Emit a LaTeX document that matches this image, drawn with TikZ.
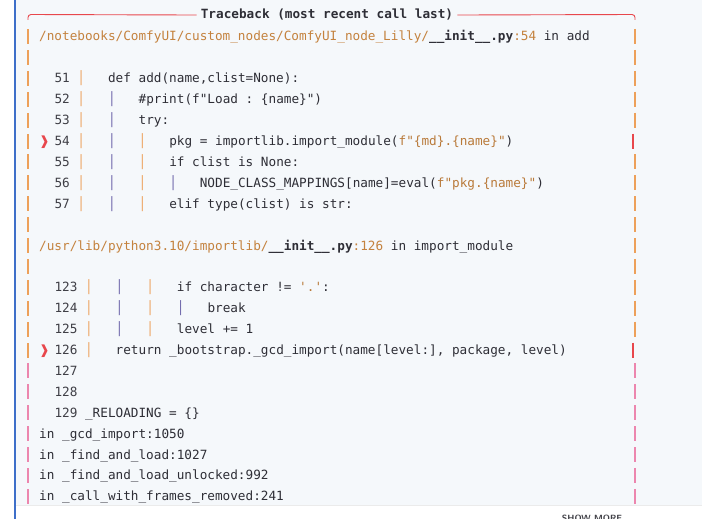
\documentclass[tikz,border=0pt]{standalone}
\usepackage{fontspec}
\setmonofont{DejaVu Sans Mono}
\newfontfamily\symfont{DejaVu Sans}
\definecolor{panel}{HTML}{F5F8FB}
\definecolor{pblue}{HTML}{3E6FC9}
\definecolor{tred}{HTML}{E8474C}
\definecolor{orng}{HTML}{EDA05A}
\definecolor{pink}{HTML}{EC86AE}
\definecolor{purp}{HTML}{6A62A8}
\definecolor{pathc}{HTML}{C4823E}
\definecolor{strc}{HTML}{B97A3A}
\definecolor{numc}{HTML}{3F3F46}
\definecolor{codec}{HTML}{2E2E36}
\newcounter{tc}
\newcommand\tx[4][codec]{\stepcounter{tc}\node[txt,text=#1] (t\thetc) at ({39+#2*7.65},{41+#3*20.9}) {#4};}
\newcommand\pp[3][orng]{\stepcounter{tc}\node[txt,text=#1] (t\thetc) at ({39+#2*7.65},{41+#3*20.9}) {\symfont │};}
\begin{document}
\begin{tikzpicture}[x=1pt,y=-1pt,
  txt/.style={anchor=base west,inner sep=0pt,font=\ttfamily\fontsize{12.7}{14}\selectfont},
  bar/.style={line width=1.3pt}]
\useasboundingbox (0,0) rectangle (702,519);
\fill[white] (0,0) rectangle (702,519);
\fill[panel,rounded corners=4pt] (14,-5) rectangle (720,505);
\fill[pblue] (13.5,-5) rectangle (15.5,519);
\fill[white] (15.5,505.5) rectangle (702,519);
\fill[black!8] (15.5,504.5) rectangle (702,505.5);
\node[anchor=base,inner sep=0pt,font=\sffamily\bfseries\fontsize{9}{10}\selectfont,text=numc] (sm) at (592,521) {SHOW MORE};
% top border
\node[txt,font=\ttfamily\bfseries\fontsize{12.7}{14}\selectfont,text=codec,anchor=base] (title) at (327,18.5) {Traceback (most recent call last)};
\draw[tred,line width=0.9pt,rounded corners=3pt] (title.west) ++(-4,0.5) coordinate (tl) -- (28,14.5) -- (28,20);
\draw[tred,line width=0.9pt,rounded corners=3pt] (title.east) ++(4,0.5) coordinate (tr) -- (635,14.5) -- (635,20);
% left and right border segments
\foreach \r in {0,...,22}{
  \pgfmathsetmacro{\yy}{29+\r*20.9}
  \ifnum\r<16 \def\lc{orng}\else\def\lc{pink}\fi
  \fill[color=\lc] (27.3,\yy) rectangle (28.7,\yy+15);
  \ifnum\r=5 \draw[tred,bar] (633,\yy) -- (633,\yy+15);
  \else\ifnum\r=15 \draw[tred,bar] (633,\yy) -- (633,\yy+15);
  \else \draw[color=\lc,bar] (635,\yy) -- (635,\yy+15);\fi\fi
}
% frame 1
\tx[pathc]{0}{0}{/notebooks/ComfyUI/custom\_nodes/ComfyUI\_node\_Lilly/\textcolor{codec}{\bfseries \_\_init\_\_.py}:54 \textcolor{codec}{in add}}
\tx[numc]{2}{2}{51}\pp{5}{2}\tx{9}{2}{def add(name,clist=None):}
\tx[numc]{2}{3}{52}\pp{5}{3}\pp[purp]{9}{3}\tx{13}{3}{\#print(f"Load : \{name\}")}
\tx[numc]{2}{4}{53}\pp{5}{4}\pp[purp]{9}{4}\tx{13}{4}{try:}
\tx[tred]{0}{5}{\symfont ❱}\tx[numc]{2}{5}{54}\pp{5}{5}\pp[purp]{9}{5}\pp{13}{5}\tx{17}{5}{pkg = importlib.import\_module(\textcolor{strc}{f"\{md\}.\{name\}"})}
\tx[numc]{2}{6}{55}\pp{5}{6}\pp[purp]{9}{6}\pp{13}{6}\tx{17}{6}{if clist is None:}
\tx[numc]{2}{7}{56}\pp{5}{7}\pp[purp]{9}{7}\pp{13}{7}\pp[purp]{17}{7}\tx{21}{7}{NODE\_CLASS\_MAPPINGS[name]=eval(\textcolor{strc}{f"pkg.\{name\}"})}
\tx[numc]{2}{8}{57}\pp{5}{8}\pp[purp]{9}{8}\pp{13}{8}\tx{17}{8}{elif type(clist) is str:}
% frame 2
\tx[pathc]{0}{10}{/usr/lib/python3.10/importlib/\textcolor{codec}{\bfseries \_\_init\_\_.py}:126 \textcolor{codec}{in import\_module}}
\tx[numc]{2}{12}{123}\pp{6}{12}\pp[purp]{10}{12}\pp{14}{12}\tx{18}{12}{if character != \textcolor{strc}{'.'}:}
\tx[numc]{2}{13}{124}\pp{6}{13}\pp[purp]{10}{13}\pp{14}{13}\pp[purp]{18}{13}\tx{22}{13}{break}
\tx[numc]{2}{14}{125}\pp{6}{14}\pp[purp]{10}{14}\pp{14}{14}\tx{18}{14}{level += 1}
\tx[tred]{0}{15}{\symfont ❱}\tx[numc]{2}{15}{126}\pp{6}{15}\tx{10}{15}{return \_bootstrap.\_gcd\_import(name[level:], package, level)}
\tx[numc]{2}{16}{127}
\tx[numc]{2}{17}{128}
\tx[numc]{2}{18}{129 \textcolor{codec}{\_RELOADING = \{\}}}
\tx{0}{19}{in \_gcd\_import:1050}
\tx{0}{20}{in \_find\_and\_load:1027}
\tx{0}{21}{in \_find\_and\_load\_unlocked:992}
\tx{0}{22}{in \_call\_with\_frames\_removed:241}
\end{tikzpicture}
\end{document}
